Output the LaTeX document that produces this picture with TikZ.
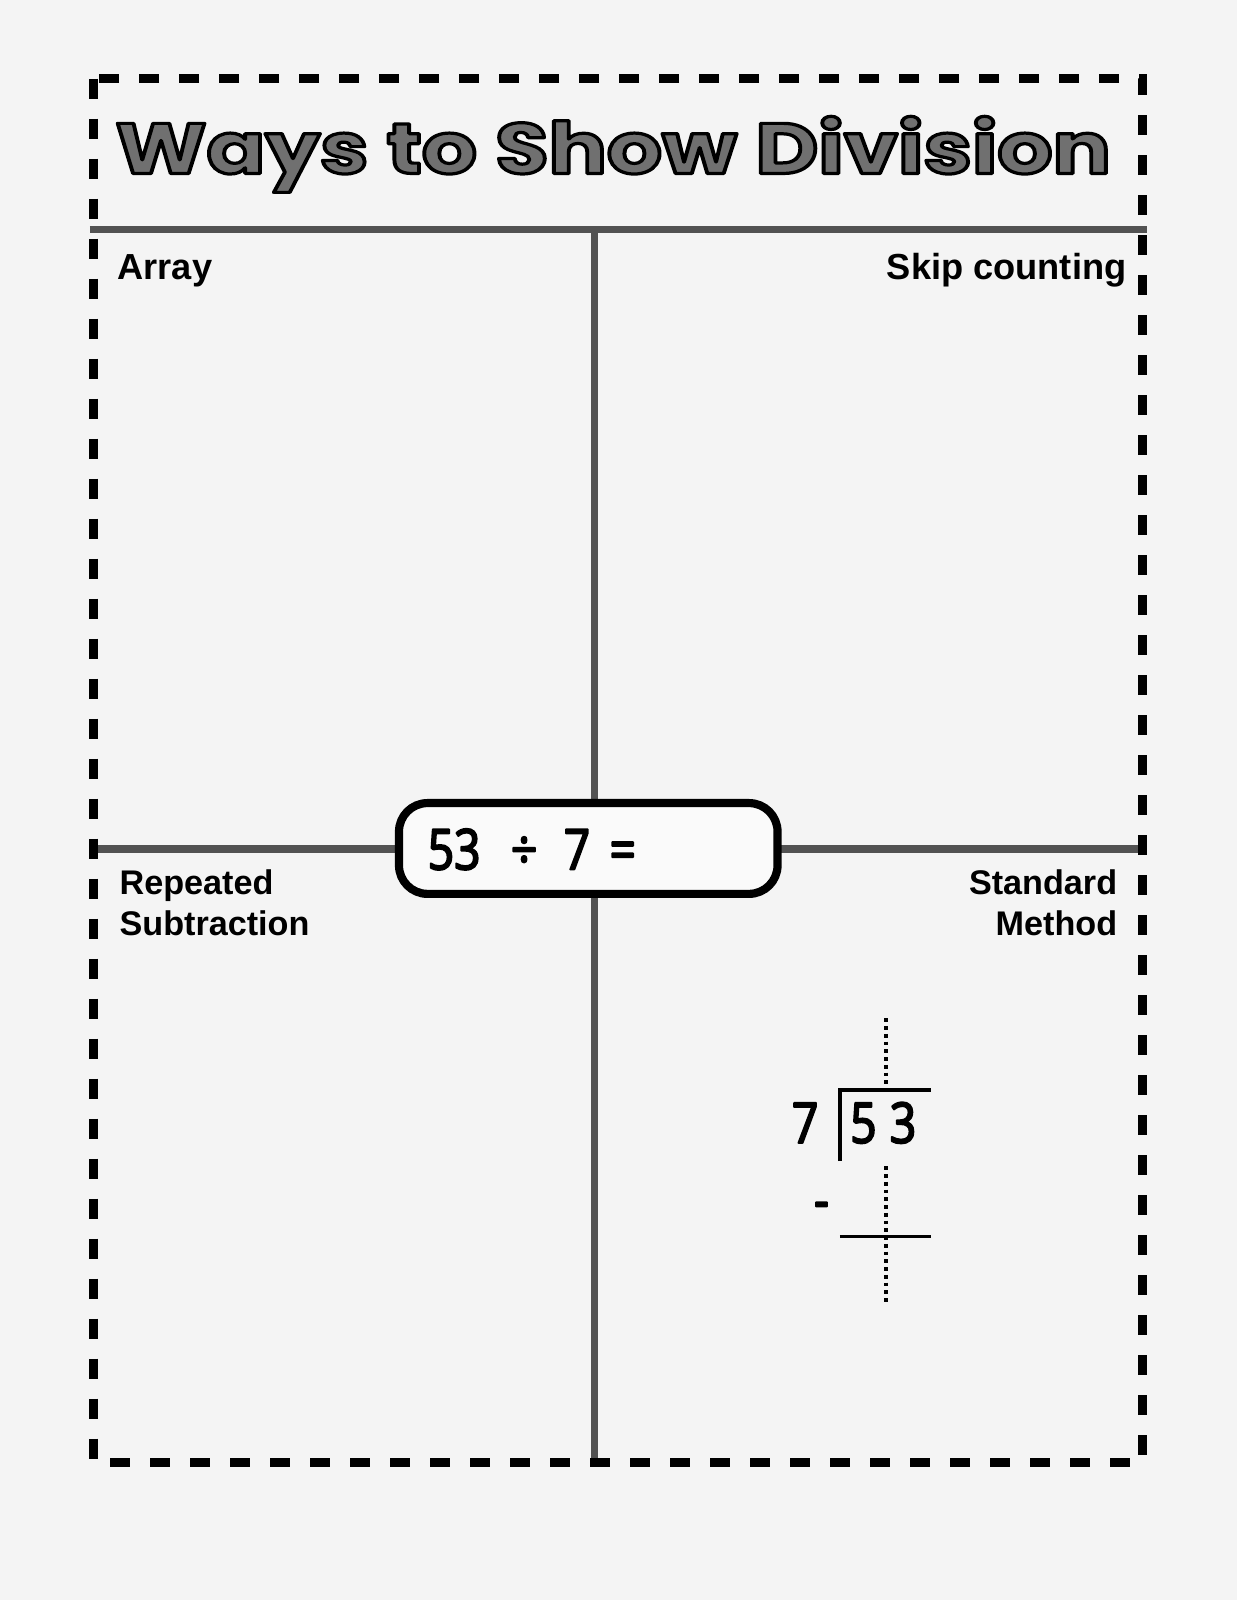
\documentclass[tikz,border=0pt]{standalone}
\usepackage{graphicx}
\usepackage{fontspec}
\setmainfont{Liberation Sans}
\newfontfamily\titlefont{Poppins}
\newfontfamily\numfont{Open Sans}[FakeStretch=0.82]
\definecolor{bg}{HTML}{F4F4F4}
\definecolor{boxbg}{HTML}{FAFAFA}
\definecolor{linegray}{HTML}{525252}
\definecolor{hatch}{HTML}{707070}
\newcommand\ttltext{\special{pdf:literal direct 0 G 2 Tr 0.45 w 1 j}\resizebox{975pt}{56pt}{\titlefont\bfseries Ways to Show Division}\special{pdf:literal direct 0 Tr}}
\newcommand\heavy[1]{\special{pdf:literal direct 2 Tr 1.8 w 1 j}#1\special{pdf:literal direct 0 Tr}}
\tikzset{
  lbl/.style={font=\fontsize{35.5}{41}\selectfont\bfseries, inner sep=0},
  lbltwo/.style={font=\fontsize{33.5}{40.5}\selectfont\bfseries, inner sep=0},
  num/.style={font=\numfont\fontsize{55}{60}\selectfont, inner sep=0},
  grid line/.style={draw=linegray, line width=7},
  ink/.style={draw=black, line width=4},
  dotline/.style={draw=black, line width=3.6, dash pattern=on 3.6pt off 4pt},
  border/.style={draw=black, line width=9, dash pattern=on 19.6pt off 19.6pt}
}
\begin{document}
\begin{tikzpicture}[x=1pt,y=-1pt]
\fill[bg] (0,0) rectangle (1212,1568);
\useasboundingbox (0,0) rectangle (1212,1568);
% grid lines
\draw[grid line] (88,225) -- (1124,225);
\draw[grid line] (583,225) -- (583,1437);
\draw[grid line] (88,832) -- (1124,832);
% border
\draw[border] (92,77) rectangle (1120,1433);
% title
\node (title) [anchor=base west, inner sep=0, text=hatch] at (113,170) {\ttltext};
% labels
\node (array) [lbl, anchor=base west] at (115,274) {Array};
\node (skip) [lbl, anchor=base east] at (1104,274) {Skip counting};
\node (rep) [lbltwo, anchor=north west, align=left] at (117,852) {Repeated\\Subtraction};
\node (std) [lbltwo, anchor=north east, align=right] at (1095,852) {Standard\\Method};
% center equation box
\node (eq) [draw=black, line width=8, rounded corners=28, fill=boxbg, minimum width=371, minimum height=89, inner sep=0] at (576.5,831.5) {};
\node (eqtext) [num, anchor=base west] at (419,852) {\heavy{53\hspace{30pt}÷\hspace{26pt}7\hspace{19pt}=}};
% long division
\node (dsor) [num, anchor=base west] at (776,1120) {\heavy{7}};
\node (dend) [num, anchor=base west] at (833,1120) {\heavy{5\hspace{13pt}3}};
\node (minus) [num, anchor=base] at (805,1195) {\heavy{-}};
\coordinate (bb) at (823,1138);
\coordinate (bt) at (823,1068);
\coordinate (br) at (912,1068);
\draw[ink] (bb) -- (bt) -- (br);
\coordinate (d1a) at (868,998);
\coordinate (d1b) at (868,1062);
\coordinate (d2a) at (868,1143);
\coordinate (d2b) at (868,1277);
\draw[dotline] (d1a) -- (d1b);
\draw[dotline] (d2a) -- (d2b);
\coordinate (sl) at (823,1212);
\coordinate (sr) at (912,1212);
\draw[ink, line width=3.2] (sl) -- (sr);
\end{tikzpicture}
\end{document}
